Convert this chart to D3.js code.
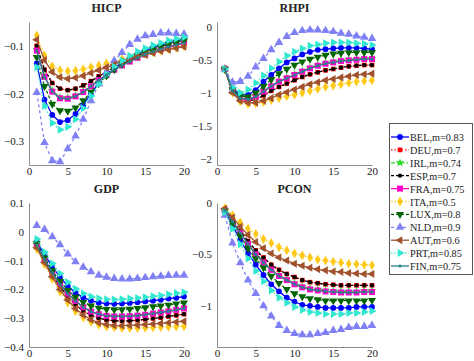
<!DOCTYPE html>
<html>
<head>
<meta charset="utf-8">
<script src="https://cdn.jsdelivr.net/npm/d3@7"></script>
<style>
  body { margin: 0; background: #fff; }
</style>
</head>
<body>
<svg id="chart"></svg>
<script>
// ---- data ----
const countries = ['BEL', 'DEU', 'IRL', 'ESP', 'FRA', 'ITA', 'LUX', 'NLD', 'AUT', 'PRT', 'FIN'];
const mValues = ['0.83', '0.7', '0.74', '0.7', '0.75', '0.5', '0.8', '0.9', '0.6', '0.85', '0.75'];
const horizon = [1, 2, 3, 4, 5, 6, 7, 8, 9, 10, 11, 12, 13, 14, 15, 16, 17, 18, 19, 20];
const xTicks = [0, 5, 10, 15, 20];

const panelTitles = ['HICP', 'RHPI', 'GDP', 'PCON'];

// one row per country, in the order of `countries`
const hicp = [
  [-0.137, -0.213, -0.245, -0.26, -0.256, -0.243, -0.224, -0.2, -0.178, -0.16, -0.146, -0.135, -0.125, -0.117, -0.11, -0.104, -0.099, -0.094, -0.09, -0.086],
  [-0.1, -0.15, -0.178, -0.19, -0.193, -0.19, -0.183, -0.174, -0.164, -0.155, -0.146, -0.138, -0.131, -0.124, -0.118, -0.112, -0.107, -0.102, -0.098, -0.094],
  [-0.108, -0.163, -0.194, -0.208, -0.209, -0.204, -0.195, -0.183, -0.171, -0.16, -0.149, -0.14, -0.132, -0.125, -0.118, -0.112, -0.107, -0.102, -0.098, -0.094],
  [-0.1, -0.15, -0.178, -0.19, -0.193, -0.19, -0.183, -0.174, -0.164, -0.155, -0.146, -0.138, -0.131, -0.124, -0.118, -0.112, -0.107, -0.102, -0.098, -0.094],
  [-0.11, -0.165, -0.196, -0.21, -0.211, -0.206, -0.197, -0.185, -0.172, -0.161, -0.15, -0.141, -0.133, -0.125, -0.118, -0.112, -0.107, -0.102, -0.098, -0.094],
  [-0.078, -0.12, -0.143, -0.151, -0.153, -0.152, -0.149, -0.145, -0.141, -0.137, -0.133, -0.128, -0.124, -0.12, -0.116, -0.113, -0.11, -0.107, -0.104, -0.101],
  [-0.124, -0.185, -0.222, -0.236, -0.237, -0.23, -0.215, -0.197, -0.179, -0.163, -0.15, -0.139, -0.129, -0.121, -0.114, -0.108, -0.102, -0.097, -0.093, -0.089],
  [-0.198, -0.303, -0.341, -0.343, -0.316, -0.289, -0.254, -0.215, -0.18, -0.156, -0.131, -0.114, -0.097, -0.086, -0.079, -0.076, -0.073, -0.073, -0.074, -0.075],
  [-0.087, -0.13, -0.155, -0.166, -0.169, -0.167, -0.163, -0.157, -0.151, -0.145, -0.139, -0.133, -0.128, -0.123, -0.119, -0.115, -0.111, -0.108, -0.105, -0.102],
  [-0.145, -0.226, -0.262, -0.276, -0.27, -0.254, -0.231, -0.205, -0.18, -0.16, -0.144, -0.131, -0.121, -0.112, -0.105, -0.099, -0.094, -0.089, -0.085, -0.082],
  [-0.11, -0.165, -0.196, -0.21, -0.211, -0.206, -0.197, -0.185, -0.172, -0.161, -0.15, -0.141, -0.133, -0.125, -0.118, -0.112, -0.107, -0.102, -0.098, -0.094]
];

const rhpi = [
  [-0.64, -0.93, -1.03, -1.03, -0.96, -0.83, -0.73, -0.63, -0.54, -0.48, -0.42, -0.38, -0.35, -0.34, -0.33, -0.32, -0.32, -0.32, -0.33, -0.34],
  [-0.64, -0.98, -1.1, -1.12, -1.1, -1.04, -0.97, -0.91, -0.86, -0.81, -0.76, -0.72, -0.69, -0.66, -0.64, -0.62, -0.6, -0.59, -0.58, -0.58],
  [-0.64, -0.96, -1.07, -1.09, -1.05, -0.97, -0.89, -0.82, -0.77, -0.72, -0.67, -0.62, -0.58, -0.55, -0.53, -0.51, -0.5, -0.49, -0.48, -0.48],
  [-0.64, -0.98, -1.1, -1.12, -1.1, -1.04, -0.97, -0.91, -0.86, -0.81, -0.76, -0.72, -0.69, -0.66, -0.64, -0.62, -0.6, -0.59, -0.58, -0.58],
  [-0.64, -0.97, -1.08, -1.1, -1.06, -0.98, -0.9, -0.83, -0.78, -0.73, -0.68, -0.63, -0.59, -0.56, -0.54, -0.52, -0.51, -0.5, -0.49, -0.49],
  [-0.64, -1.0, -1.13, -1.17, -1.16, -1.14, -1.11, -1.08, -1.05, -1.03, -1.0, -0.97, -0.94, -0.91, -0.89, -0.87, -0.85, -0.83, -0.82, -0.81],
  [-0.64, -0.95, -1.05, -1.06, -1.0, -0.9, -0.8, -0.71, -0.64, -0.58, -0.53, -0.49, -0.46, -0.43, -0.41, -0.4, -0.39, -0.39, -0.39, -0.39],
  [-0.64, -0.84, -0.83, -0.75, -0.61, -0.48, -0.35, -0.24, -0.15, -0.09, -0.06, -0.05, -0.05, -0.06, -0.075, -0.1, -0.115, -0.14, -0.16, -0.18],
  [-0.64, -1.0, -1.12, -1.15, -1.15, -1.12, -1.08, -1.03, -0.99, -0.95, -0.91, -0.87, -0.84, -0.81, -0.79, -0.77, -0.75, -0.73, -0.72, -0.71],
  [-0.64, -0.92, -1.0, -0.95, -0.85, -0.74, -0.63, -0.53, -0.44, -0.38, -0.33, -0.29, -0.27, -0.25, -0.24, -0.24, -0.24, -0.25, -0.26, -0.277],
  [-0.64, -0.97, -1.08, -1.1, -1.06, -0.98, -0.9, -0.83, -0.78, -0.73, -0.68, -0.63, -0.59, -0.56, -0.54, -0.52, -0.51, -0.5, -0.49, -0.49]
];

const gdp = [
  [-0.035, -0.08, -0.12, -0.158, -0.188, -0.212, -0.228, -0.239, -0.246, -0.249, -0.25, -0.249, -0.247, -0.245, -0.242, -0.239, -0.236, -0.232, -0.229, -0.225],
  [-0.05, -0.1, -0.148, -0.19, -0.225, -0.253, -0.275, -0.29, -0.3, -0.306, -0.309, -0.31, -0.309, -0.307, -0.304, -0.301, -0.298, -0.294, -0.29, -0.286],
  [-0.044, -0.094, -0.141, -0.181, -0.214, -0.239, -0.261, -0.276, -0.285, -0.291, -0.293, -0.293, -0.292, -0.29, -0.287, -0.283, -0.279, -0.275, -0.27, -0.265],
  [-0.05, -0.1, -0.148, -0.19, -0.225, -0.253, -0.275, -0.29, -0.3, -0.306, -0.309, -0.31, -0.309, -0.307, -0.304, -0.301, -0.298, -0.294, -0.29, -0.286],
  [-0.045, -0.095, -0.142, -0.182, -0.215, -0.24, -0.262, -0.277, -0.286, -0.292, -0.294, -0.294, -0.293, -0.291, -0.288, -0.284, -0.28, -0.276, -0.271, -0.266],
  [-0.06, -0.113, -0.163, -0.208, -0.246, -0.276, -0.298, -0.313, -0.323, -0.329, -0.332, -0.334, -0.334, -0.334, -0.333, -0.332, -0.331, -0.33, -0.329, -0.328],
  [-0.04, -0.09, -0.135, -0.172, -0.203, -0.227, -0.245, -0.257, -0.265, -0.269, -0.27, -0.27, -0.268, -0.266, -0.263, -0.26, -0.257, -0.254, -0.25, -0.247],
  [0.022, 0.008, -0.017, -0.045, -0.077, -0.104, -0.123, -0.139, -0.151, -0.158, -0.162, -0.164, -0.164, -0.162, -0.159, -0.156, -0.154, -0.152, -0.151, -0.151],
  [-0.055, -0.107, -0.156, -0.2, -0.237, -0.266, -0.289, -0.305, -0.316, -0.322, -0.325, -0.326, -0.325, -0.324, -0.322, -0.32, -0.318, -0.316, -0.313, -0.311],
  [-0.025, -0.07, -0.11, -0.145, -0.175, -0.198, -0.214, -0.225, -0.231, -0.234, -0.235, -0.234, -0.232, -0.23, -0.227, -0.224, -0.221, -0.217, -0.213, -0.21],
  [-0.045, -0.095, -0.142, -0.182, -0.215, -0.24, -0.262, -0.277, -0.286, -0.292, -0.294, -0.294, -0.293, -0.291, -0.288, -0.284, -0.28, -0.276, -0.271, -0.266]
];

const pcon = [
  [-0.08, -0.22, -0.36, -0.49, -0.6, -0.7, -0.79, -0.86, -0.92, -0.96, -0.99, -1.0, -1.01, -1.02, -1.02, -1.02, -1.02, -1.01, -1.01, -1.01],
  [-0.065, -0.17, -0.27, -0.37, -0.46, -0.53, -0.6, -0.65, -0.69, -0.72, -0.75, -0.77, -0.78, -0.79, -0.795, -0.8, -0.8, -0.8, -0.8, -0.8],
  [-0.07, -0.18, -0.29, -0.39, -0.49, -0.57, -0.64, -0.7, -0.74, -0.78, -0.81, -0.83, -0.84, -0.85, -0.855, -0.86, -0.86, -0.86, -0.855, -0.855],
  [-0.065, -0.17, -0.27, -0.37, -0.46, -0.53, -0.6, -0.65, -0.69, -0.72, -0.75, -0.77, -0.78, -0.79, -0.795, -0.8, -0.8, -0.8, -0.8, -0.8],
  [-0.07, -0.18, -0.29, -0.4, -0.5, -0.58, -0.65, -0.71, -0.75, -0.79, -0.82, -0.84, -0.85, -0.86, -0.865, -0.87, -0.87, -0.87, -0.865, -0.865],
  [-0.05, -0.12, -0.19, -0.25, -0.3, -0.35, -0.39, -0.43, -0.46, -0.49, -0.51, -0.53, -0.55, -0.56, -0.57, -0.58, -0.59, -0.595, -0.6, -0.605],
  [-0.075, -0.2, -0.32, -0.44, -0.54, -0.63, -0.71, -0.78, -0.84, -0.88, -0.91, -0.93, -0.94, -0.95, -0.95, -0.95, -0.95, -0.95, -0.95, -0.945],
  [-0.12, -0.39, -0.58, -0.75, -0.88, -1.0, -1.1, -1.19, -1.24, -1.27, -1.28, -1.28, -1.27, -1.26, -1.24, -1.23, -1.21, -1.2, -1.2, -1.19],
  [-0.055, -0.14, -0.23, -0.31, -0.38, -0.44, -0.49, -0.53, -0.56, -0.59, -0.61, -0.63, -0.645, -0.655, -0.665, -0.67, -0.68, -0.685, -0.69, -0.69],
  [-0.09, -0.25, -0.4, -0.54, -0.66, -0.76, -0.85, -0.92, -0.97, -1.01, -1.04, -1.06, -1.07, -1.08, -1.08, -1.08, -1.07, -1.07, -1.06, -1.05],
  [-0.07, -0.18, -0.29, -0.4, -0.5, -0.58, -0.65, -0.71, -0.75, -0.79, -0.82, -0.84, -0.85, -0.86, -0.865, -0.87, -0.87, -0.87, -0.865, -0.865]
];

const yDomains = [[-0.35, -0.05], [-2.09, 0.07], [-0.4, 0.1], [-1.4, 0]];
const yTicks = [
  [-0.3, -0.2, -0.1],
  [-2, -1.5, -1, -0.5, 0],
  [-0.4, -0.3, -0.2, -0.1, 0, 0.1],
  [-1, -0.5, 0]
];

// ---- canvas ----
let width = 474;
let height = 361;
let serif = '"Liberation Serif", "DejaVu Serif", serif';
let svg = d3.select('#chart')
  .attr('width', width)
  .attr('height', height)
  .style('font-family', serif);

// plot areas for the 2x2 grid
let boxes = [
  {left: 29, right: 184, top: 22, bottom: 165},
  {left: 217, right: 372, top: 22, bottom: 165},
  {left: 29, right: 184, top: 203, bottom: 347},
  {left: 217, right: 372, top: 203, bottom: 347}
];

//line + marker look for each country
let styles = [
  {color: '#0000ff', dash: null, shape: d3.symbolCircle, size: 26, rot: 0},
  {color: '#ff0000', dash: '1.5,2', shape: d3.symbolSquare, size: 22, rot: 0},
  {color: '#22dd22', dash: '4,2,1.5,2', shape: d3.symbolStar, size: 24, rot: 0},
  {color: '#000000', dash: '3,2', shape: d3.symbolCircle, size: 14, rot: 0},
  {color: '#ff00cc', dash: null, shape: d3.symbolSquare, size: 36, rot: 0},
  {color: '#ffc91a', dash: '1.5,2', shape: d3.symbolDiamond, size: 28, rot: 0},
  {color: '#006400', dash: '3,2', shape: d3.symbolTriangle, size: 28, rot: 180},
  {color: '#8080f5', dash: '3,3', shape: d3.symbolTriangle, size: 32, rot: 0},
  {color: '#a0522d', dash: null, shape: d3.symbolTriangle, size: 28, rot: -90},
  {color: '#30e8d0', dash: '1.5,2', shape: d3.symbolTriangle, size: 28, rot: 90},
  {color: '#2a7f8a', dash: null, shape: d3.symbolCircle, size: 8, rot: 0}
];

let panelData = [hicp, rhpi, gdp, pcon];
let fmt = d3.format('');

panelData.forEach((rows, p) => {
  let b = boxes[p];
  let xScale = d3.scaleLinear().domain([0, 20]).range([b.left, b.right]);
  let yScale = d3.scaleLinear().domain(yDomains[p]).range([b.bottom, b.top]);

  let g = svg.append('g');

  //axes, only left and bottom like pgfplots "axis lines=left"
  let gX = g.append('g')
    .attr('transform', 'translate(0,' + b.bottom + ')')
    .call(d3.axisBottom(xScale).tickValues(xTicks).tickSize(0).tickPadding(2).tickFormat(fmt));
  let gY = g.append('g')
    .attr('transform', 'translate(' + b.left + ',0)')
    .call(d3.axisLeft(yScale).tickValues(yTicks[p]).tickSize(0).tickPadding(5).tickFormat(fmt));
  [gX, gY].forEach(ax => {
    ax.attr('font-family', null);
    ax.select('.domain').attr('stroke', '#8c8c8c').attr('stroke-width', 1);
    ax.selectAll('text')
      .attr('font-size', 11)
      .attr('fill', '#222')
      .style('font-family', serif);
  });

  g.append('text')
    .attr('x', (b.left + b.right) / 2)
    .attr('y', b.top - 10)
    .attr('text-anchor', 'middle')
    .attr('font-weight', 'bold')
    .attr('font-size', 12)
    .attr('fill', '#222')
    .style('font-family', serif)
    .text(panelTitles[p]);

  let line = d3.line()
    .x((d, i) => xScale(horizon[i]))
    .y(d => yScale(d));

  rows.forEach((vals, c) => {
    let s = styles[c];
    g.append('path')
      .datum(vals)
      .attr('fill', 'none')
      .attr('stroke', s.color)
      .attr('stroke-width', 1.3)
      .attr('stroke-dasharray', s.dash)
      .attr('d', line);

    g.selectAll(null)
      .data(vals)
      .enter()
      .append('path')
      .attr('d', d3.symbol().type(s.shape).size(s.size))
      .attr('transform', (d, i) => 'translate(' + xScale(horizon[i]) + ',' + yScale(d) + ') rotate(' + s.rot + ')')
      .attr('fill', s.color);
  });
});

// ---- legend ----
let lg = svg.append('g');
lg.append('rect')
  .attr('x', 389.5).attr('y', 123.5)
  .attr('width', 83).attr('height', 151)
  .attr('fill', '#fff')
  .attr('stroke', '#555');

countries.forEach((name, c) => {
  let s = styles[c];
  let y = 137 + c * 12.9;
  lg.append('line')
    .attr('x1', 391).attr('x2', 409)
    .attr('y1', y).attr('y2', y)
    .attr('stroke', s.color)
    .attr('stroke-width', 1.3)
    .attr('stroke-dasharray', s.dash);
  lg.append('path')
    .attr('d', d3.symbol().type(s.shape).size(s.size))
    .attr('transform', 'translate(400,' + y + ') rotate(' + s.rot + ')')
    .attr('fill', s.color);
  lg.append('text')
    .attr('x', 410)
    .attr('y', y + 4)
    .attr('font-size', 10.3)
    .attr('fill', '#222')
    .style('font-family', serif)
    .text(name + ',m=' + mValues[c]);
});
</script>
</body>
</html>
